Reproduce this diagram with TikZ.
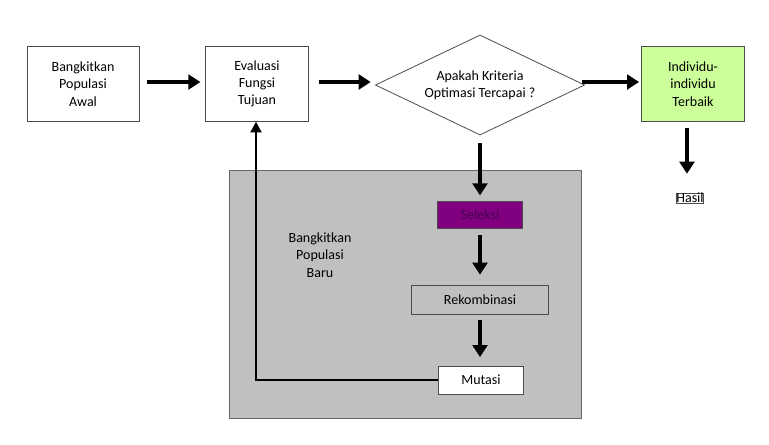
\documentclass[tikz,border=0pt]{standalone}
\usepackage{fontspec}
\setmainfont{Carlito}
\usetikzlibrary{shapes.geometric,arrows.meta}
\definecolor{bggray}{RGB}{192,192,192}
\definecolor{ungu}{RGB}{128,0,128}
\definecolor{unguteks}{RGB}{70,0,80}
\definecolor{hijau}{RGB}{204,255,153}
\begin{document}
\begin{tikzpicture}[x=0.75pt,y=-0.75pt,
		kotak/.style={draw=black!70,line width=0.6pt,align=center,font=\fontsize{10.5}{13}\selectfont},
		panah/.style={line width=3pt,-{Triangle[length=9pt,width=11pt]}}]
		\useasboundingbox (0,0) rectangle (769,444);
		\fill [bggray,draw=black!60] (229,170) rectangle (581,418);
		\node [kotak,minimum width=84pt,minimum height=56pt] (awal) at (83,84) {Bangkitkan\\Populasi\\Awal};
		\node [kotak,minimum width=77pt,minimum height=56pt] (eval) at (257,84) {Evaluasi\\Fungsi\\Tujuan};
		\node [kotak,diamond,aspect=2.1,minimum width=157pt,minimum height=75pt,inner sep=0pt] (krit) at (480,85) {Apakah Kriteria\\Optimasi Tercapai ?};
		\node [kotak,fill=hijau,minimum width=77pt,minimum height=56pt] (baik) at (693,84) {Individu-\\individu\\Terbaik};
		\node [kotak,inner sep=0pt] (hasil) at (690,198) {Hasil};
		\node [kotak,draw=none] (baru) at (320,255) {Bangkitkan\\Populasi\\Baru};
		\node [kotak,fill=ungu,text=unguteks,minimum width=64pt,minimum height=20pt] (sel) at (480,215) {Seleksi};
		\node [kotak,minimum width=103pt,minimum height=22pt] (rek) at (480,300) {Rekombinasi};
		\node [kotak,fill=white,minimum width=64pt,minimum height=21pt] (mut) at (481,380) {Mutasi};
		\coordinate (belok) at (256,378);
		% alur utama
		\draw [panah] (awal.east)++(8,-2) -- ++(53,0);
		\draw [panah] (eval.east)++(10,-2) -- ++(52,0);
		\draw [panah] (krit.east)++(-3,-3) -- ++(57,0);
		\draw [panah] (baik.south)++(-6,6) -- ++(0,46);
		\draw [panah] (krit.south)++(0,8) -- ++(0,52);
		\draw [panah] (sel.south)++(0,6) -- ++(0,40);
		\draw [panah] (rek.south)++(0,5) -- ++(0,37);
		\draw [line width=2.2pt,-{Triangle[length=8pt,width=8pt]}] (mut.west) -- (mut.west -| belok) -- (belok |- eval.south);
\end{tikzpicture}
\end{document}
